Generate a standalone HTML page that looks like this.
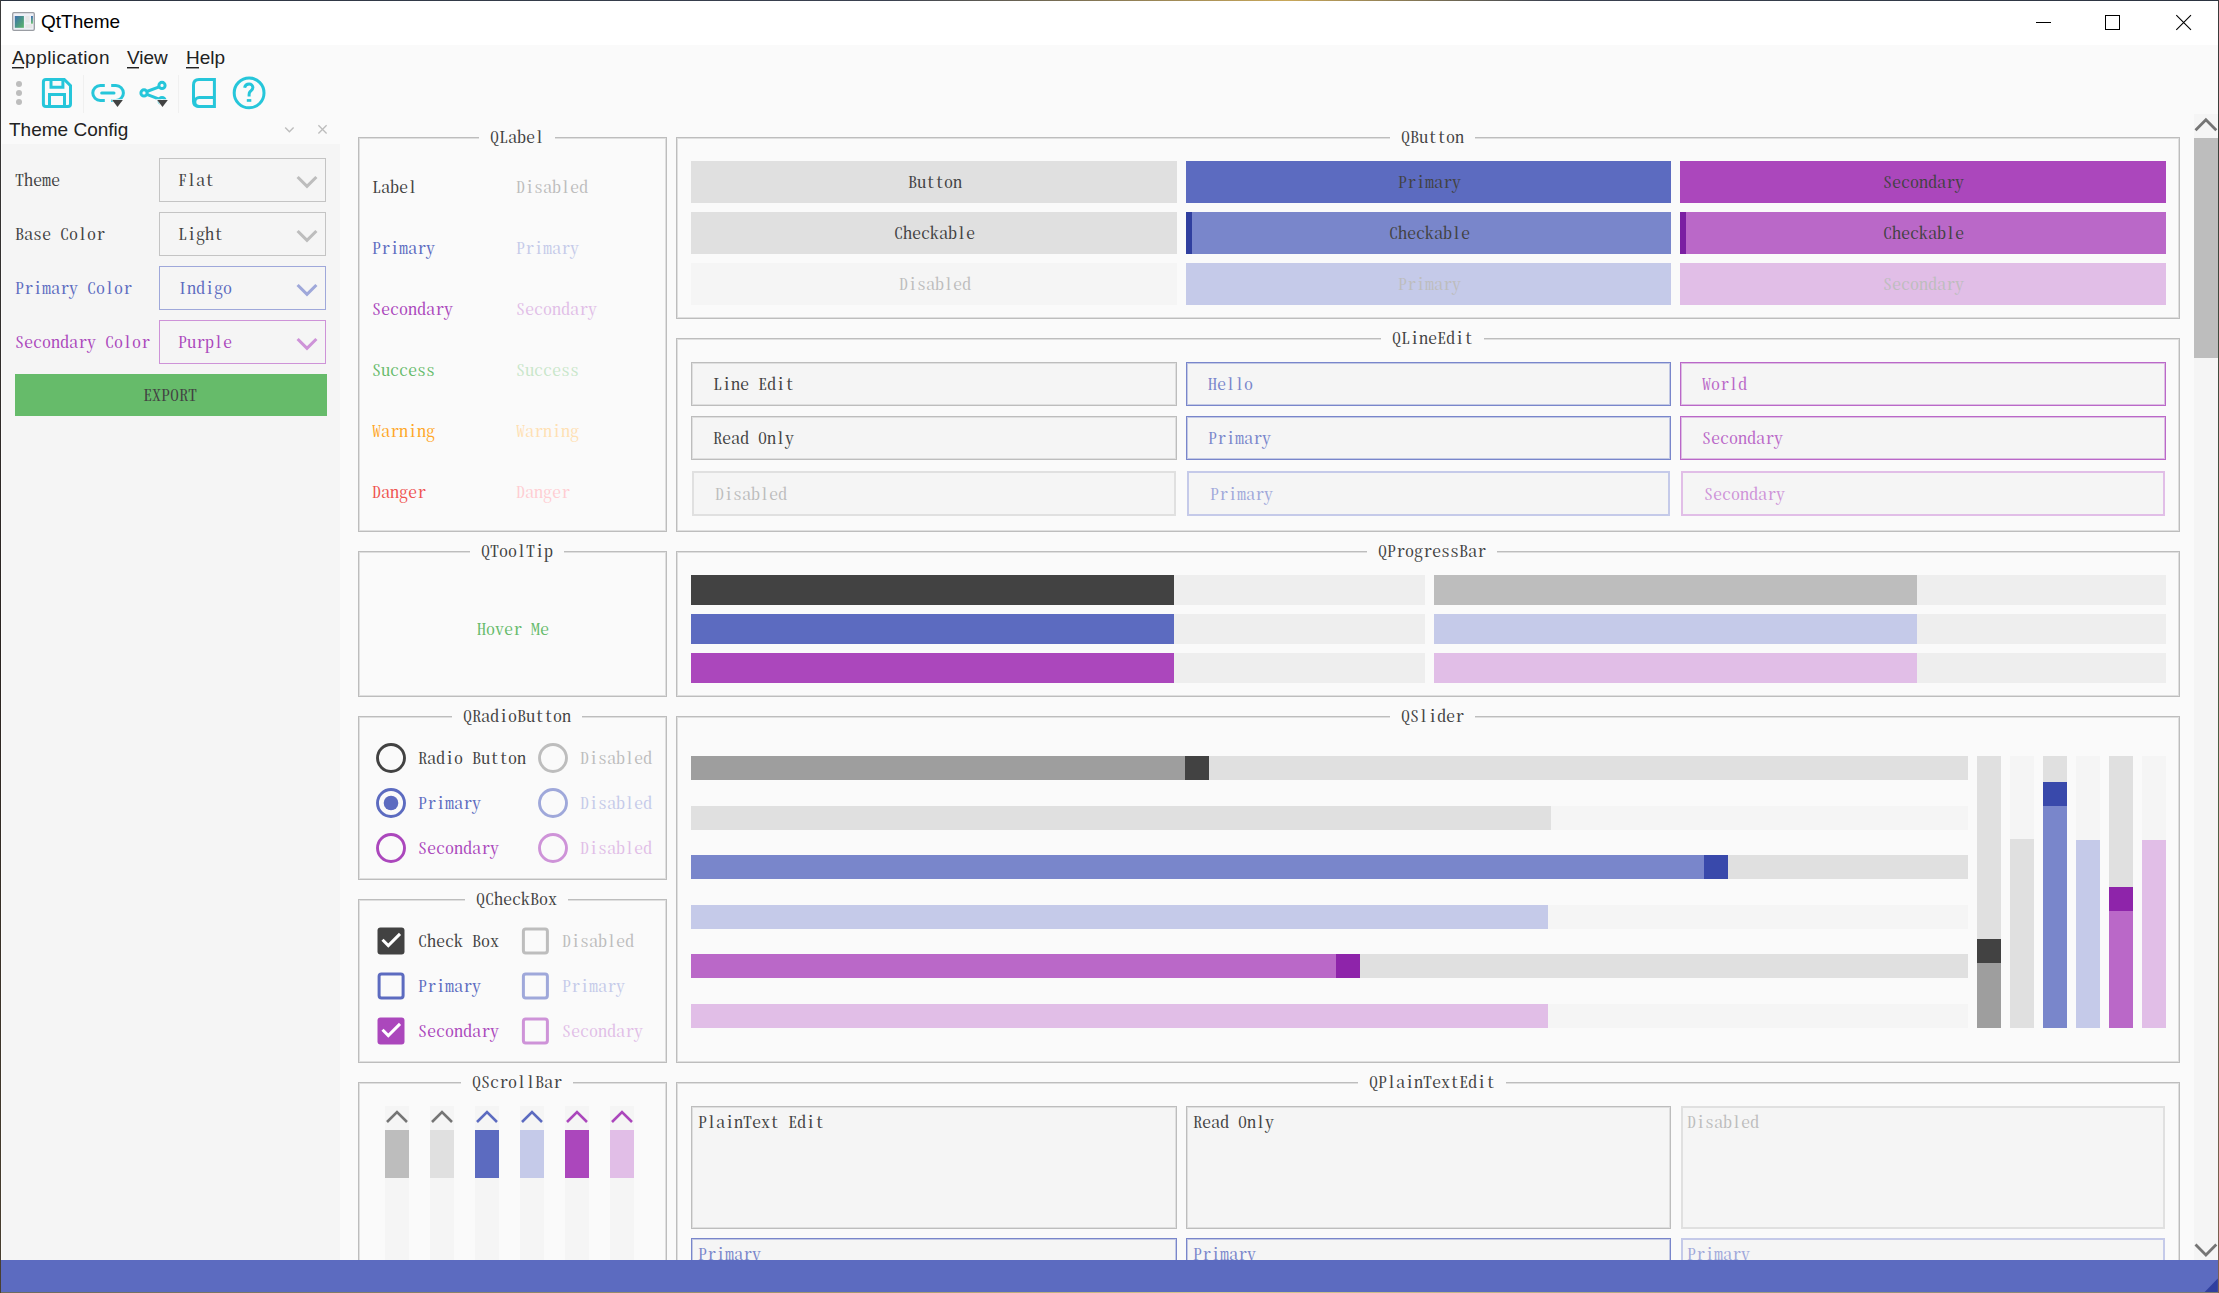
<!DOCTYPE html>
<html><head><meta charset="utf-8"><title>QtTheme</title>
<style>
html,body{margin:0;padding:0;}
body{width:2219px;height:1293px;position:relative;overflow:hidden;background:#3b4048;}
.a{position:absolute;box-sizing:content-box;}
.m{position:absolute;font-family:'Noto Serif CJK SC', 'Liberation Mono', monospace;font-size:16px;line-height:20px;letter-spacing:0;font-feature-settings:'hwid' 1;white-space:pre;transform:scaleX(1.125);transform-origin:0 0;}
.s{position:absolute;font-family:'Liberation Sans', 'DejaVu Sans', sans-serif;line-height:24px;white-space:pre;}
.gt{position:absolute;background:#fafafa;}
svg{position:absolute;overflow:visible;}
</style></head><body>

<div class="a" style="left:0px;top:0px;width:2219px;height:1px;background:linear-gradient(90deg,#2b3340,#3a4150 40%,#c9a85a 58%,#3a4150 70%,#2b3340);"></div>
<div class="a" style="left:0px;top:1292px;width:2219px;height:1px;background:linear-gradient(90deg,#6b6b60,#a89a70 40%,#d8c890 55%,#7a7a70);"></div>
<div class="a" style="left:0px;top:0px;width:1px;height:1293px;background:linear-gradient(180deg,#3a3a3a,#2a2320 50%,#4a4030);"></div>
<div class="a" style="left:2218px;top:0px;width:1px;height:1293px;background:linear-gradient(180deg,#3a3a3a,#4a6040 60%,#806050);"></div>
<div class="a" style="left:1px;top:1px;width:2217px;height:1291px;background:#fafafa;"></div>
<div class="a" style="left:1px;top:1px;width:2217px;height:44px;background:#ffffff;"></div>
<svg style="left:0;top:0" width="60" height="45" viewBox="0 0 60 45">
<defs><linearGradient id="tg" x1="0" y1="0" x2="1" y2="1"><stop offset="0" stop-color="#3f6fb0"/><stop offset="0.5" stop-color="#4a9488"/><stop offset="1" stop-color="#5db56a"/></linearGradient>
<linearGradient id="tg2" x1="0" y1="0" x2="0" y2="1"><stop offset="0" stop-color="#3f6fb0"/><stop offset="1" stop-color="#6cc070"/></linearGradient></defs>
<rect x="12.7" y="12.7" width="21.6" height="17.6" rx="1.2" fill="#eef0f6" stroke="#9a9da3" stroke-width="1.3"/>
<rect x="14.8" y="16" width="9.1" height="11.8" fill="url(#tg)"/>
<rect x="25.4" y="16" width="4.2" height="6.6" fill="#e6e6e6"/>
<rect x="25.4" y="24.2" width="7" height="3.8" fill="#e6e6e6"/>
<rect x="31" y="16" width="1.9" height="7.7" fill="url(#tg2)"/>
</svg>
<div class="s" style="left:41px;top:10px;color:#000;font-size:19px;">QtTheme</div>
<div class="a" style="left:2036px;top:22px;width:15px;height:1px;background:#000;"></div>
<div class="a" style="left:2105px;top:15px;width:13px;height:13px;border:1px solid #000;background:transparent;"></div>
<svg style="left:2170px;top:10px" width="30" height="30" viewBox="0 0 30 30"><path d="M6.3 5.2 L21 19.9 M21 5.2 L6.3 19.9" stroke="#000" stroke-width="1.1" fill="none"/></svg>
<div class="s" style="left:12px;top:46px;color:#222;font-size:19px;letter-spacing:0.45px">Application</div>
<div class="s" style="left:127px;top:46px;color:#222;font-size:19px;">View</div>
<div class="s" style="left:186px;top:46px;color:#222;font-size:19px;">Help</div>
<div class="a" style="left:12px;top:67px;width:12px;height:1px;background:#222;"></div>
<div class="a" style="left:12px;top:68px;width:12px;height:1px;background:#9a9a9a;"></div>
<div class="a" style="left:127px;top:67px;width:12px;height:1px;background:#222;"></div>
<div class="a" style="left:127px;top:68px;width:12px;height:1px;background:#9a9a9a;"></div>
<div class="a" style="left:186px;top:67px;width:13px;height:1px;background:#222;"></div>
<div class="a" style="left:186px;top:68px;width:13px;height:1px;background:#9a9a9a;"></div>
<svg style="left:0;top:0" width="300" height="120" viewBox="0 0 300 120">
<circle cx="19" cy="84" r="3" fill="#bdbdbd"/><circle cx="19" cy="93" r="3" fill="#bdbdbd"/><circle cx="19" cy="102" r="3" fill="#bdbdbd"/>
<g fill="none" stroke="#26c6da" stroke-width="3">
<path d="M46 79.4 H64.3 L70.5 85.6 V104 Q70.5 106.5 68 106.5 H46 Q43.4 106.5 43.4 104 V82 Q43.4 79.4 46 79.4 Z"/>
<path d="M51 79.4 V87.2 H62.9 V79.4"/>
<path d="M49.5 106.5 V94.4 H64.5 V106.5"/>
<path d="M104.8 85.5 H100.3 A7.5 7.5 0 0 0 100.3 100.5 H104.8"/>
<path d="M111.2 85.5 H115.9 A7.5 7.5 0 0 1 115.9 100.5 H111.2"/>
<path d="M101.7 92.9 H114" stroke-linecap="round"/>
<circle cx="144" cy="92.9" r="3.1"/>
<circle cx="162" cy="85.4" r="3.1"/>
<circle cx="162" cy="100.5" r="3.1"/>
<path d="M146.8 91.5 L159.2 86.8 M146.8 94.3 L159.2 99.1"/>
<path d="M214.4 79.4 H199 Q193.5 79.4 193.5 85 V101.5 Q193.5 106.5 199 106.5 H214.4 Z"/>
<path d="M214.4 97.5 H199.3 A4.5 4.5 0 0 0 199.3 106.5"/>
<circle cx="249.1" cy="92.9" r="14.9"/>
<path d="M244.6 87.7 C245.1 85 247 83.9 249.1 83.9 C251.3 83.9 252.9 85.5 252.9 87.6 C252.9 89.8 251.1 90.7 250.1 91.6 C249.3 92.4 249.1 93.3 249.1 94.6 V96.4"/>
</g>
<rect x="246.8" y="99.1" width="4.5" height="2.7" fill="#26c6da"/>
<path d="M111 99.3 H124 L117.5 108 Z" fill="#fafafa"/><path d="M112.2 100.1 H122.8 L117.5 107 Z" fill="#424242"/>
<path d="M156 99.3 H169 L162.5 108 Z" fill="#fafafa"/><path d="M157.2 100.1 H167.8 L162.5 107 Z" fill="#424242"/>
</svg>
<div class="a" style="left:83px;top:75px;width:1px;height:38px;background:#f0f0f0;"></div>
<div class="a" style="left:178px;top:75px;width:1px;height:38px;background:#f0f0f0;"></div>
<div class="s" style="left:9px;top:118px;color:#222;font-size:19px;">Theme Config</div>
<svg style="left:0;top:0" width="340" height="145" viewBox="0 0 340 145">
<path d="M285.2 127.6 L289.4 131.8 L293.6 127.6" fill="none" stroke="#bdbdbd" stroke-width="1.4"/>
<path d="M318.4 125.3 L326.6 133.5 M326.6 125.3 L318.4 133.5" fill="none" stroke="#bdbdbd" stroke-width="1.3"/>
</svg>
<div class="a" style="left:2px;top:144px;width:338px;height:1116px;background:#f5f5f5;"></div>
<div class="m" style="left:15px;top:170px;color:#424242;">Theme</div>
<div class="a" style="left:159px;top:158px;width:165px;height:42px;border:1px solid #c4c4c4;box-shadow:inset 0 0 0 1px #f5f5f5;background:#f5f5f5"></div>
<div class="m" style="left:178px;top:170px;color:#424242;">Flat</div>
<svg style="left:290px;top:158px" width="36" height="44" viewBox="0 0 36 44"><path d="M7.6 19 L17 28.4 L26.4 19" fill="none" stroke="#bdbdbd" stroke-width="3.1"/></svg>
<div class="m" style="left:15px;top:224px;color:#424242;">Base Color</div>
<div class="a" style="left:159px;top:212px;width:165px;height:42px;border:1px solid #c4c4c4;box-shadow:inset 0 0 0 1px #f5f5f5;background:#f5f5f5"></div>
<div class="m" style="left:178px;top:224px;color:#424242;">Light</div>
<svg style="left:290px;top:212px" width="36" height="44" viewBox="0 0 36 44"><path d="M7.6 19 L17 28.4 L26.4 19" fill="none" stroke="#bdbdbd" stroke-width="3.1"/></svg>
<div class="m" style="left:15px;top:278px;color:#5c6bc0;">Primary Color</div>
<div class="a" style="left:159px;top:266px;width:165px;height:42px;border:1px solid #9fa8da;box-shadow:inset 0 0 0 1px #f5f5f5;background:#f5f5f5"></div>
<div class="m" style="left:178px;top:278px;color:#5c6bc0;">Indigo</div>
<svg style="left:290px;top:266px" width="36" height="44" viewBox="0 0 36 44"><path d="M7.6 19 L17 28.4 L26.4 19" fill="none" stroke="#9fa8da" stroke-width="3.1"/></svg>
<div class="m" style="left:15px;top:332px;color:#ab47bc;">Secondary Color</div>
<div class="a" style="left:159px;top:320px;width:165px;height:42px;border:1px solid #ce93d8;box-shadow:inset 0 0 0 1px #f5f5f5;background:#f5f5f5"></div>
<div class="m" style="left:178px;top:332px;color:#ab47bc;">Purple</div>
<svg style="left:290px;top:320px" width="36" height="44" viewBox="0 0 36 44"><path d="M7.6 19 L17 28.4 L26.4 19" fill="none" stroke="#ce93d8" stroke-width="3.1"/></svg>
<div class="a" style="left:15px;top:374px;width:312px;height:42px;background:#66bb6a;"></div>
<div class="m" style="left:143px;top:385px;color:#424242;">EXPORT</div>
<div class="a" style="left:0;top:0;width:2219px;height:1260px;overflow:hidden">
<div class="a" style="left:358px;top:137px;width:307px;height:393px;border:1px solid #bdbdbd;box-shadow:inset 0 0 0 1px #dfdfdf"></div>
<div class="gt" style="left:479px;top:136px;width:76px;height:4px"></div>
<div class="m" style="left:490px;top:127px;color:#424242;">QLabel</div>
<div class="a" style="left:676px;top:137px;width:1502px;height:180px;border:1px solid #bdbdbd;box-shadow:inset 0 0 0 1px #dfdfdf"></div>
<div class="gt" style="left:1390px;top:136px;width:85px;height:4px"></div>
<div class="m" style="left:1401px;top:127px;color:#424242;">QButton</div>
<div class="a" style="left:676px;top:338px;width:1502px;height:192px;border:1px solid #bdbdbd;box-shadow:inset 0 0 0 1px #dfdfdf"></div>
<div class="gt" style="left:1381px;top:337px;width:103px;height:4px"></div>
<div class="m" style="left:1392px;top:328px;color:#424242;">QLineEdit</div>
<div class="a" style="left:358px;top:551px;width:307px;height:144px;border:1px solid #bdbdbd;box-shadow:inset 0 0 0 1px #dfdfdf"></div>
<div class="gt" style="left:470px;top:550px;width:94px;height:4px"></div>
<div class="m" style="left:481px;top:541px;color:#424242;">QToolTip</div>
<div class="a" style="left:676px;top:551px;width:1502px;height:144px;border:1px solid #bdbdbd;box-shadow:inset 0 0 0 1px #dfdfdf"></div>
<div class="gt" style="left:1367px;top:550px;width:130px;height:4px"></div>
<div class="m" style="left:1378px;top:541px;color:#424242;">QProgressBar</div>
<div class="a" style="left:358px;top:716px;width:307px;height:162px;border:1px solid #bdbdbd;box-shadow:inset 0 0 0 1px #dfdfdf"></div>
<div class="gt" style="left:452px;top:715px;width:130px;height:4px"></div>
<div class="m" style="left:463px;top:706px;color:#424242;">QRadioButton</div>
<div class="a" style="left:676px;top:716px;width:1502px;height:345px;border:1px solid #bdbdbd;box-shadow:inset 0 0 0 1px #dfdfdf"></div>
<div class="gt" style="left:1390px;top:715px;width:85px;height:4px"></div>
<div class="m" style="left:1401px;top:706px;color:#424242;">QSlider</div>
<div class="a" style="left:358px;top:899px;width:307px;height:162px;border:1px solid #bdbdbd;box-shadow:inset 0 0 0 1px #dfdfdf"></div>
<div class="gt" style="left:465px;top:898px;width:103px;height:4px"></div>
<div class="m" style="left:476px;top:889px;color:#424242;">QCheckBox</div>
<div class="a" style="left:358px;top:1082px;width:307px;height:317px;border:1px solid #bdbdbd;box-shadow:inset 0 0 0 1px #dfdfdf"></div>
<div class="gt" style="left:461px;top:1081px;width:112px;height:4px"></div>
<div class="m" style="left:472px;top:1072px;color:#424242;">QScrollBar</div>
<div class="a" style="left:676px;top:1082px;width:1502px;height:317px;border:1px solid #bdbdbd;box-shadow:inset 0 0 0 1px #dfdfdf"></div>
<div class="gt" style="left:1358px;top:1081px;width:148px;height:4px"></div>
<div class="m" style="left:1369px;top:1072px;color:#424242;">QPlainTextEdit</div>
<div class="m" style="left:372px;top:177px;color:#424242;">Label</div>
<div class="m" style="left:516px;top:177px;color:#bdbdbd;">Disabled</div>
<div class="m" style="left:372px;top:238px;color:#5c6bc0;">Primary</div>
<div class="m" style="left:516px;top:238px;color:#c5cae9;">Primary</div>
<div class="m" style="left:372px;top:299px;color:#ab47bc;">Secondary</div>
<div class="m" style="left:516px;top:299px;color:#e1bee7;">Secondary</div>
<div class="m" style="left:372px;top:360px;color:#66bb6a;">Success</div>
<div class="m" style="left:516px;top:360px;color:#c8e6c9;">Success</div>
<div class="m" style="left:372px;top:421px;color:#ffa726;">Warning</div>
<div class="m" style="left:516px;top:421px;color:#ffe0b2;">Warning</div>
<div class="m" style="left:372px;top:482px;color:#ef5350;">Danger</div>
<div class="m" style="left:516px;top:482px;color:#ffcdd2;">Danger</div>
<div class="a" style="left:691px;top:161px;width:486px;height:42px;background:#e0e0e0;"></div>
<div class="m" style="left:908px;top:172px;color:#424242;">Button</div>
<div class="a" style="left:1186px;top:161px;width:485px;height:42px;background:#5c6bc0;"></div>
<div class="m" style="left:1398px;top:172px;color:#424242;">Primary</div>
<div class="a" style="left:1680px;top:161px;width:486px;height:42px;background:#ab47bc;"></div>
<div class="m" style="left:1883px;top:172px;color:#424242;">Secondary</div>
<div class="a" style="left:691px;top:212px;width:486px;height:42px;background:#e0e0e0;"></div>
<div class="m" style="left:894px;top:223px;color:#424242;">Checkable</div>
<div class="a" style="left:1186px;top:212px;width:485px;height:42px;background:#7986cb;"></div>
<div class="a" style="left:1186px;top:212px;width:6px;height:42px;background:#303f9f;"></div>
<div class="m" style="left:1389px;top:223px;color:#424242;">Checkable</div>
<div class="a" style="left:1680px;top:212px;width:486px;height:42px;background:#ba68c8;"></div>
<div class="a" style="left:1680px;top:212px;width:6px;height:42px;background:#7b1fa2;"></div>
<div class="m" style="left:1883px;top:223px;color:#424242;">Checkable</div>
<div class="a" style="left:691px;top:263px;width:486px;height:42px;background:#f5f5f5;"></div>
<div class="m" style="left:899px;top:274px;color:#bdbdbd;">Disabled</div>
<div class="a" style="left:1186px;top:263px;width:485px;height:42px;background:#c5cae9;"></div>
<div class="m" style="left:1398px;top:274px;color:#bdbdbd;">Primary</div>
<div class="a" style="left:1680px;top:263px;width:486px;height:42px;background:#e1bee7;"></div>
<div class="m" style="left:1883px;top:274px;color:#bdbdbd;">Secondary</div>
<div class="a" style="left:691px;top:362px;width:484px;height:42px;border:1px solid #bdbdbd;box-shadow:inset 0 0 0 1px #dfdfdf;background:#f5f5f5"></div>
<div class="m" style="left:713px;top:374px;color:#424242;">Line Edit</div>
<div class="a" style="left:1186px;top:362px;width:483px;height:42px;border:1px solid #7986cb;box-shadow:inset 0 0 0 1px #c3c9e4;background:#f5f5f5"></div>
<div class="m" style="left:1208px;top:374px;color:#7986cb;">Hello</div>
<div class="a" style="left:1680px;top:362px;width:484px;height:42px;border:1px solid #ba68c8;box-shadow:inset 0 0 0 1px #ddbde3;background:#f5f5f5"></div>
<div class="m" style="left:1702px;top:374px;color:#ba68c8;">World</div>
<div class="a" style="left:691px;top:416px;width:484px;height:42px;border:1px solid #bdbdbd;box-shadow:inset 0 0 0 1px #dfdfdf;background:#f5f5f5"></div>
<div class="m" style="left:713px;top:428px;color:#424242;">Read Only</div>
<div class="a" style="left:1186px;top:416px;width:483px;height:42px;border:1px solid #7986cb;box-shadow:inset 0 0 0 1px #c3c9e4;background:#f5f5f5"></div>
<div class="m" style="left:1208px;top:428px;color:#7986cb;">Primary</div>
<div class="a" style="left:1680px;top:416px;width:484px;height:42px;border:1px solid #ba68c8;box-shadow:inset 0 0 0 1px #ddbde3;background:#f5f5f5"></div>
<div class="m" style="left:1702px;top:428px;color:#ba68c8;">Secondary</div>
<div class="a" style="left:692px;top:471px;width:480px;height:41px;border:2px solid #e0e0e0;background:#f5f5f5;"></div>
<div class="m" style="left:715px;top:484px;color:#bdbdbd;">Disabled</div>
<div class="a" style="left:1187px;top:471px;width:479px;height:41px;border:2px solid #c5cae9;background:#f5f5f5;"></div>
<div class="m" style="left:1210px;top:484px;color:#9fa8da;">Primary</div>
<div class="a" style="left:1681px;top:471px;width:480px;height:41px;border:2px solid #e1bee7;background:#f5f5f5;"></div>
<div class="m" style="left:1704px;top:484px;color:#ce93d8;">Secondary</div>
<div class="m" style="left:477px;top:619px;color:#66bb6a;">Hover Me</div>
<div class="a" style="left:691px;top:575px;width:734px;height:30px;background:#eeeeee;"></div>
<div class="a" style="left:691px;top:575px;width:483px;height:30px;background:#424242;"></div>
<div class="a" style="left:1434px;top:575px;width:732px;height:30px;background:#eeeeee;"></div>
<div class="a" style="left:1434px;top:575px;width:483px;height:30px;background:#bdbdbd;"></div>
<div class="a" style="left:691px;top:614px;width:734px;height:30px;background:#eeeeee;"></div>
<div class="a" style="left:691px;top:614px;width:483px;height:30px;background:#5c6bc0;"></div>
<div class="a" style="left:1434px;top:614px;width:732px;height:30px;background:#eeeeee;"></div>
<div class="a" style="left:1434px;top:614px;width:483px;height:30px;background:#c5cae9;"></div>
<div class="a" style="left:691px;top:653px;width:734px;height:30px;background:#eeeeee;"></div>
<div class="a" style="left:691px;top:653px;width:483px;height:30px;background:#ab47bc;"></div>
<div class="a" style="left:1434px;top:653px;width:732px;height:30px;background:#eeeeee;"></div>
<div class="a" style="left:1434px;top:653px;width:483px;height:30px;background:#e1bee7;"></div>
<svg style="left:0;top:0" width="700" height="1100" viewBox="0 0 700 1100"><circle cx="391" cy="758" r="13.5" fill="none" stroke="#424242" stroke-width="2.9"/><circle cx="553" cy="758" r="13.5" fill="none" stroke="#bdbdbd" stroke-width="2.9"/><circle cx="391" cy="803" r="13.5" fill="none" stroke="#5c6bc0" stroke-width="2.9"/><circle cx="391" cy="803" r="7.3" fill="#5c6bc0"/><circle cx="553" cy="803" r="13.5" fill="none" stroke="#9fa8da" stroke-width="2.9"/><circle cx="391" cy="848" r="13.5" fill="none" stroke="#ab47bc" stroke-width="2.9"/><circle cx="553" cy="848" r="13.5" fill="none" stroke="#ce93d8" stroke-width="2.9"/><rect x="377.5" y="927.6" width="27" height="27" rx="3" fill="#424242"/><path d="M382.5 939.8000000000001 L388.3 945.6 L400.0 933.9" fill="none" stroke="#fff" stroke-width="3"/><rect x="523.4" y="928.9" width="24" height="24" rx="2.4" fill="none" stroke="#bdbdbd" stroke-width="3"/><rect x="379.1" y="973.9" width="24" height="24" rx="2.4" fill="none" stroke="#5c6bc0" stroke-width="3"/><rect x="523.4" y="973.9" width="24" height="24" rx="2.4" fill="none" stroke="#9fa8da" stroke-width="3"/><rect x="377.5" y="1017.6" width="27" height="27" rx="3" fill="#ab47bc"/><path d="M382.5 1029.8 L388.3 1035.6 L400.0 1023.9" fill="none" stroke="#fff" stroke-width="3"/><rect x="523.4" y="1018.9" width="24" height="24" rx="2.4" fill="none" stroke="#ce93d8" stroke-width="3"/></svg>
<div class="m" style="left:418px;top:748px;color:#424242;">Radio Button</div>
<div class="m" style="left:580px;top:748px;color:#bdbdbd;">Disabled</div>
<div class="m" style="left:418px;top:793px;color:#5c6bc0;">Primary</div>
<div class="m" style="left:580px;top:793px;color:#c5cae9;">Disabled</div>
<div class="m" style="left:418px;top:838px;color:#ab47bc;">Secondary</div>
<div class="m" style="left:580px;top:838px;color:#e1bee7;">Disabled</div>
<div class="m" style="left:418px;top:931px;color:#424242;">Check Box</div>
<div class="m" style="left:562px;top:931px;color:#bdbdbd;">Disabled</div>
<div class="m" style="left:418px;top:976px;color:#5c6bc0;">Primary</div>
<div class="m" style="left:562px;top:976px;color:#c5cae9;">Primary</div>
<div class="m" style="left:418px;top:1021px;color:#ab47bc;">Secondary</div>
<div class="m" style="left:562px;top:1021px;color:#e1bee7;">Secondary</div>
<div class="a" style="left:385px;top:1106px;width:24px;height:154px;background:#f5f5f5;"></div>
<div class="a" style="left:385px;top:1130px;width:24px;height:48px;background:#bdbdbd;"></div>
<div class="a" style="left:430px;top:1106px;width:24px;height:154px;background:#f5f5f5;"></div>
<div class="a" style="left:430px;top:1130px;width:24px;height:48px;background:#e0e0e0;"></div>
<div class="a" style="left:475px;top:1106px;width:24px;height:154px;background:#f5f5f5;"></div>
<div class="a" style="left:475px;top:1130px;width:24px;height:48px;background:#5c6bc0;"></div>
<div class="a" style="left:520px;top:1106px;width:24px;height:154px;background:#f5f5f5;"></div>
<div class="a" style="left:520px;top:1130px;width:24px;height:48px;background:#c5cae9;"></div>
<div class="a" style="left:565px;top:1106px;width:24px;height:154px;background:#f5f5f5;"></div>
<div class="a" style="left:565px;top:1130px;width:24px;height:48px;background:#ab47bc;"></div>
<div class="a" style="left:610px;top:1106px;width:24px;height:154px;background:#f5f5f5;"></div>
<div class="a" style="left:610px;top:1130px;width:24px;height:48px;background:#e1bee7;"></div>
<svg style="left:0;top:0" width="700" height="1293" viewBox="0 0 700 1293"><path d="M387 1122 L397 1112 L407 1122" fill="none" stroke="#757575" stroke-width="2.6"/><path d="M432 1122 L442 1112 L452 1122" fill="none" stroke="#757575" stroke-width="2.6"/><path d="M477 1122 L487 1112 L497 1122" fill="none" stroke="#5c6bc0" stroke-width="2.6"/><path d="M522 1122 L532 1112 L542 1122" fill="none" stroke="#5c6bc0" stroke-width="2.6"/><path d="M567 1122 L577 1112 L587 1122" fill="none" stroke="#ab47bc" stroke-width="2.6"/><path d="M612 1122 L622 1112 L632 1122" fill="none" stroke="#ab47bc" stroke-width="2.6"/></svg>
<div class="a" style="left:691px;top:756px;width:1277px;height:24px;background:#e0e0e0;"></div>
<div class="a" style="left:691px;top:756px;width:494px;height:24px;background:#9e9e9e;"></div>
<div class="a" style="left:1185px;top:756px;width:24px;height:24px;background:#424242;"></div>
<div class="a" style="left:691px;top:806px;width:1277px;height:24px;background:#f5f5f5;"></div>
<div class="a" style="left:691px;top:806px;width:860px;height:24px;background:#e0e0e0;"></div>
<div class="a" style="left:691px;top:855px;width:1277px;height:24px;background:#e0e0e0;"></div>
<div class="a" style="left:691px;top:855px;width:1013px;height:24px;background:#7986cb;"></div>
<div class="a" style="left:1704px;top:855px;width:24px;height:24px;background:#3949ab;"></div>
<div class="a" style="left:691px;top:905px;width:1277px;height:24px;background:#f5f5f5;"></div>
<div class="a" style="left:691px;top:905px;width:857px;height:24px;background:#c5cae9;"></div>
<div class="a" style="left:691px;top:954px;width:1277px;height:24px;background:#e0e0e0;"></div>
<div class="a" style="left:691px;top:954px;width:645px;height:24px;background:#ba68c8;"></div>
<div class="a" style="left:1336px;top:954px;width:24px;height:24px;background:#8e24aa;"></div>
<div class="a" style="left:691px;top:1004px;width:1277px;height:24px;background:#f5f5f5;"></div>
<div class="a" style="left:691px;top:1004px;width:857px;height:24px;background:#e1bee7;"></div>
<div class="a" style="left:1977px;top:756px;width:24px;height:272px;background:#e0e0e0;"></div>
<div class="a" style="left:1977px;top:963px;width:24px;height:65px;background:#9e9e9e;"></div>
<div class="a" style="left:1977px;top:939px;width:24px;height:24px;background:#424242;"></div>
<div class="a" style="left:2010px;top:756px;width:24px;height:272px;background:#f5f5f5;"></div>
<div class="a" style="left:2010px;top:839px;width:24px;height:189px;background:#e0e0e0;"></div>
<div class="a" style="left:2043px;top:756px;width:24px;height:272px;background:#e0e0e0;"></div>
<div class="a" style="left:2043px;top:806px;width:24px;height:222px;background:#7986cb;"></div>
<div class="a" style="left:2043px;top:782px;width:24px;height:24px;background:#3949ab;"></div>
<div class="a" style="left:2076px;top:756px;width:24px;height:272px;background:#f5f5f5;"></div>
<div class="a" style="left:2076px;top:840px;width:24px;height:188px;background:#c5cae9;"></div>
<div class="a" style="left:2109px;top:756px;width:24px;height:272px;background:#e0e0e0;"></div>
<div class="a" style="left:2109px;top:911px;width:24px;height:117px;background:#ba68c8;"></div>
<div class="a" style="left:2109px;top:887px;width:24px;height:24px;background:#8e24aa;"></div>
<div class="a" style="left:2142px;top:756px;width:24px;height:272px;background:#f5f5f5;"></div>
<div class="a" style="left:2142px;top:840px;width:24px;height:188px;background:#e1bee7;"></div>
<div class="a" style="left:691px;top:1106px;width:484px;height:121px;border:1px solid #bdbdbd;box-shadow:inset 0 0 0 1px #dfdfdf;background:#f5f5f5"></div>
<div class="m" style="left:698px;top:1112px;color:#424242;">PlainText Edit</div>
<div class="a" style="left:1186px;top:1106px;width:483px;height:121px;border:1px solid #bdbdbd;box-shadow:inset 0 0 0 1px #dfdfdf;background:#f5f5f5"></div>
<div class="m" style="left:1193px;top:1112px;color:#424242;">Read Only</div>
<div class="a" style="left:1681px;top:1106px;width:480px;height:119px;border:2px solid #e0e0e0;background:#f5f5f5;"></div>
<div class="m" style="left:1687px;top:1112px;color:#bdbdbd;">Disabled</div>
<div class="a" style="left:691px;top:1238px;width:484px;height:58px;border:1px solid #7986cb;box-shadow:inset 0 0 0 1px #c3c9e4;background:#f5f5f5"></div>
<div class="m" style="left:698px;top:1244px;color:#7986cb;">Primary</div>
<div class="a" style="left:1186px;top:1238px;width:483px;height:58px;border:1px solid #7986cb;box-shadow:inset 0 0 0 1px #c3c9e4;background:#f5f5f5"></div>
<div class="m" style="left:1193px;top:1244px;color:#7986cb;">Primary</div>
<div class="a" style="left:1681px;top:1238px;width:480px;height:56px;border:2px solid #c5cae9;background:#f5f5f5;"></div>
<div class="m" style="left:1687px;top:1244px;color:#9fa8da;">Primary</div>
</div>
<div class="a" style="left:2194px;top:114px;width:24px;height:1146px;background:#f5f5f5;"></div>
<div class="a" style="left:2194px;top:138px;width:24px;height:220px;background:#bdbdbd;"></div>
<svg style="left:2190px;top:110px" width="30" height="1150" viewBox="0 0 30 1150"><path d="M5.5 20.2 L15.9 9.8 L26.3 20.2" fill="none" stroke="#757575" stroke-width="2.8"/><path d="M5.5 1134.5 L15.9 1144.9 L26.3 1134.5" fill="none" stroke="#757575" stroke-width="2.8"/></svg>
<div class="a" style="left:1px;top:1260px;width:2217px;height:32px;background:#5c6bc0;"></div>
<svg style="left:2200px;top:1275px" width="18" height="17" viewBox="0 0 18 17"><path d="M4.7 17 L17.8 3.6 L17.8 17 Z" fill="#303f9f"/></svg>
</body></html>
